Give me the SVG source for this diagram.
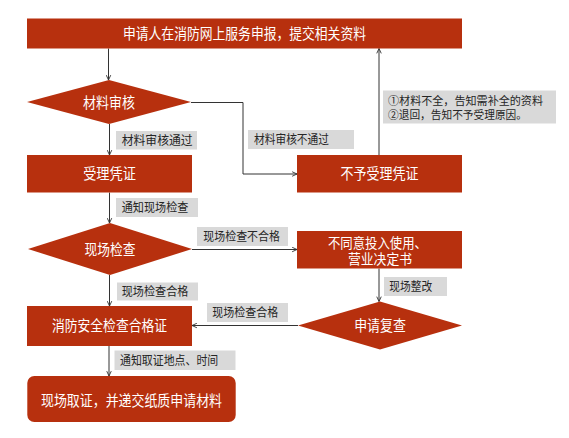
<svg xmlns="http://www.w3.org/2000/svg" width="569" height="438" viewBox="0 0 569 438">
<defs>
<style>
.node{fill:#B7300E;}
.nt{fill:#FFFFFF;font-family:"Liberation Sans","Noto Sans CJK SC",sans-serif;font-size:15px;text-anchor:middle;}
.nt2{font-size:14px;}
.lb{fill:#D9D9D9;}
.lt{fill:#262626;font-family:"Liberation Sans","Noto Sans CJK SC",sans-serif;font-size:12.5px;}
.lt2{font-size:11.5px;}
.cn{fill:none;stroke:#333333;stroke-width:1;marker-end:url(#arr);}
</style>
<marker id="arr" viewBox="0 0 8 8" refX="7.5" refY="4" markerWidth="6" markerHeight="6" orient="auto" markerUnits="userSpaceOnUse">
<path d="M1,1 L7.5,4 L1,7" fill="none" stroke="#333333" stroke-width="1.2"/>
</marker>
</defs>
<rect width="569" height="438" fill="#FFFFFF"/>

<g id="connectors">
<path class="cn" d="M108.5,48.5 V80"/>
<path class="cn" d="M109.5,124 V155"/>
<path class="cn" d="M191,102.5 H243 V174 H297"/>
<path class="cn" d="M379,155 V48.5"/>
<path class="cn" d="M109.5,192.5 V223"/>
<path class="cn" d="M192,249.5 H297"/>
<path class="cn" d="M379,268.5 V301.5"/>
<path class="cn" d="M298,325.5 H192"/>
<path class="cn" d="M109.5,275 V306"/>
<path class="cn" d="M109,346 V376"/>
</g>

<g id="labels">
<g id="lbl-pass"><rect class="lb" x="116" y="131" width="81" height="18.5"/><text class="lt" x="121.7" y="144.7" textLength="71" lengthAdjust="spacingAndGlyphs">材料审核通过</text></g>
<g id="lbl-fail"><rect class="lb" x="248" y="130" width="106" height="19"/><text class="lt" x="254" y="143.9" textLength="75" lengthAdjust="spacingAndGlyphs">材料审核不通过</text></g>
<g id="lbl-return"><rect class="lb" x="383" y="90.5" width="173" height="33"/>
<text class="lt lt2"><tspan x="388" y="105.2" textLength="155" lengthAdjust="spacingAndGlyphs">①材料不全，告知需补全的资料</tspan><tspan x="388" y="118.7" textLength="139" lengthAdjust="spacingAndGlyphs">②退回，告知不予受理原因。</tspan></text></g>
<g id="lbl-notify"><rect class="lb" x="116" y="198" width="82" height="19"/><text class="lt" x="121.7" y="211.9" textLength="66.7" lengthAdjust="spacingAndGlyphs">通知现场检查</text></g>
<g id="lbl-insp-fail"><rect class="lb" x="197" y="227" width="91" height="19"/><text class="lt" x="203.3" y="240.9" textLength="76.7" lengthAdjust="spacingAndGlyphs">现场检查不合格</text></g>
<g id="lbl-fix"><rect class="lb" x="384" y="277" width="63" height="19"/><text class="lt" x="389.3" y="290.9" textLength="43" lengthAdjust="spacingAndGlyphs">现场整改</text></g>
<g id="lbl-insp-pass"><rect class="lb" x="117" y="282.5" width="81" height="18"/><text class="lt" x="121.7" y="296" textLength="66.7" lengthAdjust="spacingAndGlyphs">现场检查合格</text></g>
<g id="lbl-insp-pass2"><rect class="lb" x="207" y="303" width="81" height="19"/><text class="lt" x="212.3" y="316.9" textLength="66" lengthAdjust="spacingAndGlyphs">现场检查合格</text></g>
<g id="lbl-pickup"><rect class="lb" x="114.5" y="350.5" width="121" height="19.5"/><text class="lt" x="120" y="364.6" textLength="98.3" lengthAdjust="spacingAndGlyphs">通知取证地点、时间</text></g>
</g>

<g id="n-apply"><rect class="node" x="27" y="18.5" width="435" height="30"/><text class="nt" x="244.5" y="39" textLength="243" lengthAdjust="spacingAndGlyphs">申请人在消防网上服务申报，提交相关资料</text></g>
<g id="n-review"><polygon class="node" points="109,80 191,102 109,124 27,102"/><text class="nt" x="109" y="107.5" textLength="52" lengthAdjust="spacingAndGlyphs">材料审核</text></g>
<g id="n-accept"><rect class="node" x="27" y="155" width="165" height="37.5"/><text class="nt" x="109.5" y="179" textLength="52.7" lengthAdjust="spacingAndGlyphs">受理凭证</text></g>
<g id="n-reject"><rect class="node" x="297" y="155" width="165" height="37.5"/><text class="nt" x="379.5" y="179" textLength="78" lengthAdjust="spacingAndGlyphs">不予受理凭证</text></g>
<g id="n-inspect"><polygon class="node" points="110,223 192,249 110,275 28,249"/><text class="nt" x="110" y="254.5" textLength="51" lengthAdjust="spacingAndGlyphs">现场检查</text></g>
<g id="n-deny"><rect class="node" x="297" y="231" width="165" height="37.5"/>
<text class="nt nt2"><tspan x="377.5" y="247.9" textLength="99" lengthAdjust="spacingAndGlyphs">不同意投入使用、</tspan><tspan x="380" y="263.7" textLength="64" lengthAdjust="spacingAndGlyphs">营业决定书</tspan></text></g>
<g id="n-recheck"><polygon class="node" points="380,301.5 462,325.5 380,349.5 298,325.5"/><text class="nt" x="380" y="331" textLength="51.7" lengthAdjust="spacingAndGlyphs">申请复查</text></g>
<g id="n-cert"><rect class="node" x="27" y="306" width="165" height="40"/><text class="nt" x="109.5" y="330.5" textLength="115" lengthAdjust="spacingAndGlyphs">消防安全检查合格证</text></g>
<g id="n-pickup"><rect class="node" x="27.3" y="376" width="208.4" height="46" rx="7" ry="7"/><text class="nt" x="131.5" y="405.5" textLength="181" lengthAdjust="spacingAndGlyphs">现场取证，并递交纸质申请材料</text></g>
</svg>
